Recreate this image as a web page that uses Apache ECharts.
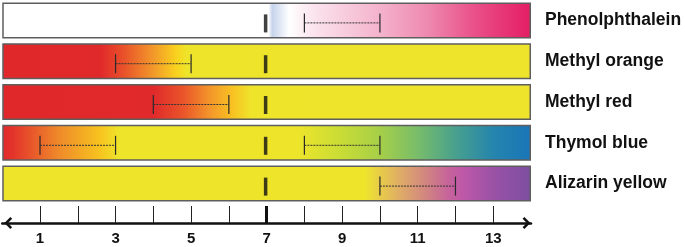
<!DOCTYPE html>
<html>
<head>
<meta charset="utf-8">
<script src="https://cdn.jsdelivr.net/npm/echarts@6/dist/echarts.min.js"></script>
<style>
html,body{margin:0;padding:0;background:#fff;}
#chart{width:685px;height:247px;}
</style>
</head>
<body>
<div id="chart"></div>
<script>
// ---- data ----
var indicators = ['Phenolphthalein', 'Methyl orange', 'Methyl red', 'Thymol blue', 'Alizarin yellow'];
var phMin = 0;
var phMax = 14;
// transition ranges [indicator index, low pH, high pH]
var rangeRow  = [0, 1, 2, 3, 3, 4];
var rangeLow  = [8, 3, 4, 1, 8, 10];
var rangeHigh = [10, 5, 6, 3, 10, 12];
var neutralPH = 7;
var minorTicks = [1, 2, 3, 4, 5, 6, 8, 9, 10, 11, 12, 13];
var tickLabels = [1, 3, 5, 7, 9, 11, 13];

// ---- colour stops (pH, colour) per indicator ----
var colourStops = [
  [[0,'#ffffff'],[7.05,'#ffffff'],[7.15,'#c6d4ec'],[7.6,'#ffffff'],[8.2,'#fbe5ee'],[10,'#f4b2cb'],[11.3,'#ee88ae'],[12.5,'#e95089'],[14,'#e41d63']],
  [[0,'#e0282b'],[2.6,'#e0292b'],[3.2,'#e9502a'],[4.0,'#f2982a'],[4.6,'#f9d11e'],[4.9,'#eee52b'],[14,'#ede42b']],
  [[0,'#e0282b'],[4.0,'#e0292b'],[4.8,'#ea552a'],[5.5,'#f3962a'],[6.1,'#f8c222'],[6.6,'#eee52b'],[14,'#ede42b']],
  [[0,'#e0282b'],[0.3,'#e3352b'],[1.5,'#ef8a2a'],[2.6,'#f7c41f'],[3.1,'#eee52b'],[7.8,'#eee52b'],[9,'#c8dc36'],[10,'#a6cf48'],[11,'#78bd6a'],[12,'#48a08e'],[13,'#2585ad'],[14,'#1a75b8']],
  [[0,'#eee52b'],[9.6,'#eee52b'],[10,'#e8cc48'],[10.6,'#dea86a'],[11.2,'#d28680'],[11.8,'#c6649a'],[12.2,'#bf58a8'],[13,'#9a52a6'],[14,'#7c4ea0']]
];

var chart = echarts.init(document.getElementById('chart'), null, {renderer:'canvas'});

var barData = indicators.map(function (name, i) {
  return {
    value: phMax,
    itemStyle: {
      color: new echarts.graphic.LinearGradient(0, 0, 1, 0, colourStops[i].map(function (s) {
        return {offset: (s[0] - phMin) / (phMax - phMin), color: s[1]};
      }))
    }
  };
});

var rangeData = rangeRow.map(function (r, i) { return [rangeLow[i], rangeHigh[i], r]; });
var neutralData = indicators.map(function (n, i) { return [neutralPH, i]; });

var FONT = '"Liberation Sans", Arial, sans-serif';
var chevron = 'path://M0,10 L10,0 L20,10 L17,13 L10,6 L3,13 Z';

var option = {
  animation: false,
  grid: [
    {left: 2.25, width: 528.75, top: -1, height: 205},
    {left: 2.25, width: 528.75, top: 205, height: 18},
    {left: 2.25, width: 528.75, top: 205, height: 18}
  ],
  xAxis: [
    {gridIndex: 0, type: 'value', min: phMin, max: phMax, show: false},
    {gridIndex: 1, type: 'value', min: phMin, max: phMax, position: 'bottom',
      splitLine: {show: false},
      axisLine: {show: true, onZero: false, lineStyle: {color: '#111', width: 2.5},
        symbol: [chevron, chevron], symbolSize: [12, 11], symbolOffset: [6, -4.5]},
      axisTick: {show: true, inside: true, length: 17, customValues: minorTicks, lineStyle: {color: '#222', width: 1}},
      axisLabel: {show: true, customValues: tickLabels, margin: 8, color: '#111',
        fontSize: 15, fontWeight: 'bold', fontFamily: FONT}
    },
    {gridIndex: 2, type: 'value', min: phMin, max: phMax, position: 'bottom',
      splitLine: {show: false},
      axisLine: {show: false, onZero: false},
      axisTick: {show: true, inside: true, length: 17, customValues: [neutralPH], lineStyle: {color: '#111', width: 3}},
      axisLabel: {show: false}
    }
  ],
  yAxis: [
    {gridIndex: 0, type: 'category', data: indicators, inverse: true, position: 'right',
      axisLine: {show: false}, axisTick: {show: false}, splitLine: {show: false},
      axisLabel: {margin: 14, color: '#111', fontSize: 17.5, fontWeight: 'bold', fontFamily: FONT}
    },
    {gridIndex: 1, type: 'value', show: false, min: 0, max: 1},
    {gridIndex: 2, type: 'value', show: false, min: 0, max: 1}
  ],
  series: [
    {
      type: 'bar', xAxisIndex: 0, yAxisIndex: 0, barWidth: 36,
      data: barData,
      itemStyle: {borderColor: '#5e5e5e', borderWidth: 1.5},
      silent: true
    },
    {
      type: 'custom', xAxisIndex: 0, yAxisIndex: 0,
      encode: {x: [0, 1], y: 2},
      dimensions: ['low', 'high', 'row'],
      data: rangeData,
      z: 5,
      clip: false,
      renderItem: function (params, api) {
        var row = api.value(2);
        var p1 = api.coord([api.value(0), row]);
        var p2 = api.coord([api.value(1), row]);
        var y = p1[1] + 2.5;
        var h = 9.5;
        var st = {stroke: '#2a2a2a', lineWidth: 1.2};
        return {
          type: 'group',
          children: [
            {type: 'line', shape: {x1: p1[0], y1: y, x2: p2[0], y2: y},
              style: {stroke: '#333', lineWidth: 1, lineDash: [2, 1]}},
            {type: 'line', shape: {x1: p1[0], y1: y - h, x2: p1[0], y2: y + h}, style: st},
            {type: 'line', shape: {x1: p2[0], y1: y - h, x2: p2[0], y2: y + h}, style: st}
          ]
        };
      },
      silent: true
    },
    {
      type: 'scatter', xAxisIndex: 0, yAxisIndex: 0,
      data: neutralData,
      symbol: 'rect', symbolSize: [3.5, 18], symbolOffset: [-1, 3],
      itemStyle: {color: '#111'},
      z: 5,
      silent: true
    }
  ]
};
chart.setOption(option);
</script>
</body>
</html>
